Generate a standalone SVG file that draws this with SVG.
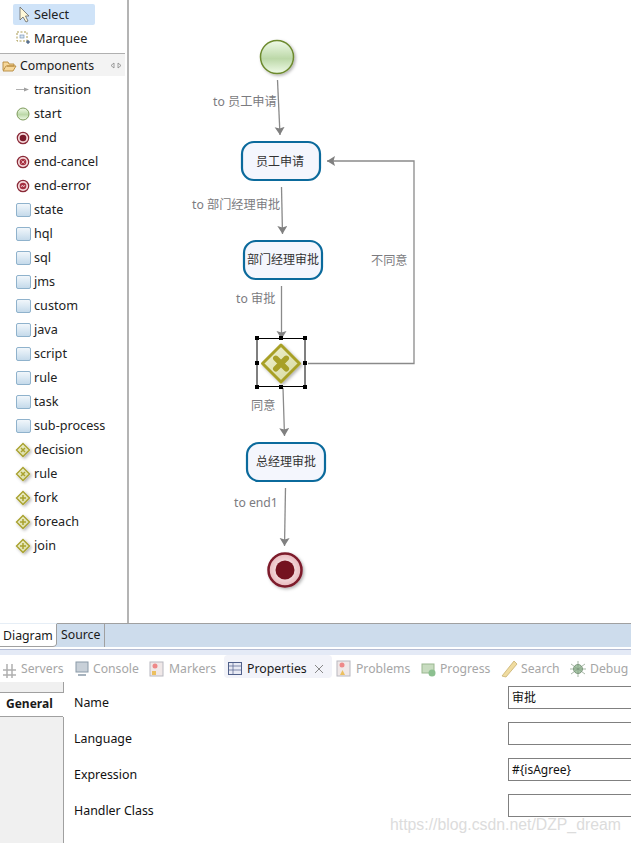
<svg xmlns="http://www.w3.org/2000/svg" width="631" height="843" viewBox="0 0 631 843">
<style>
text{font-family:"Noto Sans","Noto Sans CJK SC",sans-serif;font-size:12.300px;fill:#1a1a1a}
.pal{font-size:12.650px;fill:#222}
.tab{fill:#a6a6a6;font-size:12.200px}
.lbl{fill:#7b7b80;font-size:12.200px}
.nt{fill:#333;font-size:12px;text-anchor:middle}
.prop{font-size:12.400px;fill:#111}
.conn{fill:none;stroke:#8a8a8a;stroke-width:1.300;marker-end:url(#arr)}
.task{fill:#f4f6fd;stroke:#0b6a9c;stroke-width:2.200}
.box{fill:#fff;stroke:#808080;stroke-width:1}
.h{fill:#000}
</style>
<defs>
<marker id="arr" markerUnits="userSpaceOnUse" markerWidth="12" markerHeight="12" refX="8" refY="5" orient="auto"><path d="M0 0L8 5L0 10L1.500 5Z" fill="#808080"/></marker>
<linearGradient id="gs" x1="0" y1="0" x2="0" y2="1"><stop offset="0" stop-color="#f0fbe8"/><stop offset=".55" stop-color="#bcd8a8"/><stop offset="1" stop-color="#f0fbe8"/></linearGradient>
<linearGradient id="gb" x1="0" y1="0" x2="0" y2="1"><stop offset="0" stop-color="#f3f8fc"/><stop offset="1" stop-color="#c3d9ea"/></linearGradient>
<linearGradient id="gd" x1="0" y1="0" x2="1" y2="1"><stop offset="0" stop-color="#f0f2d0"/><stop offset="1" stop-color="#d6d8a0"/></linearGradient>
<radialGradient id="ge"><stop offset="0" stop-color="#fff"/><stop offset="1" stop-color="#e8b8bc"/></radialGradient>
<filter id="sh" x="-20%" y="-20%" width="150%" height="150%"><feDropShadow dx="1.500" dy="1.500" stdDeviation="1.500" flood-color="#000" flood-opacity=".3"/></filter>
<g id="i-box"><rect x="-6.500" y="-6.500" width="14" height="13" rx="1.500" fill="url(#gb)" stroke="#8fb2cc"/></g>
<g id="i-dia"><path d="M0 -6.500L6.500 0L0 6.500L-6.500 0Z" fill="url(#gd)" stroke="#a9a22e" stroke-width="1.400" filter="url(#sh)"/></g>
<g id="i-end"><circle r="5.700" fill="#f4d8da" stroke="#8a2a38" stroke-width="1.200"/></g>
</defs>

<rect width="631" height="843" fill="#fff"/>

<g id="palette">
<rect x="127" y="0" width="2" height="623" fill="#b4b4b4"/>
<rect x="13" y="4" width="82" height="21" rx="2" fill="#cfe3f8"/>
<path d="M20 7V20L23 17L26 22L28 21L25.500 16H29Z" fill="#fff8d8" stroke="#666" stroke-width=".8"/>
<text class="pal" x="34" y="19">Select</text>
<rect x="17" y="32" width="10" height="9" fill="none" stroke="#a89a50" stroke-dasharray="2 1.500"/><rect x="20" y="35" width="4" height="3" fill="#d8e4f0" stroke="#6a8ab0" stroke-width=".6"/><path d="M26 42H30M28 40V44" stroke="#20406a" stroke-width="1"/>
<text class="pal" x="34" y="43">Marquee</text>
<rect x="0" y="53" width="125" height="1" fill="#b0b0b0"/>
<rect x="0" y="54" width="125" height="22" fill="#f3f3f3"/>
<path d="M3 70V62H8L9 64H14V66H6L3 71H13L16 66H7" fill="#f6d79a" stroke="#b5893a" stroke-width=".9"/>
<text x="20" y="70" style="font-size:12.300px">Components</text>
<path d="M111 65.500L114 63V68ZM121 65.500L118 63V68Z" fill="none" stroke="#888" stroke-width=".8"/>
<path d="M16 89.500H26" stroke="#b0b0b0" stroke-width="1"/><path d="M24 87.500L29 89.500L24 91.500Z" fill="#a0a0a0"/>
<text class="pal" x="34" y="94">transition</text>
<circle cx="23" cy="114" r="6" fill="url(#gs)" stroke="#7d9a5a"/>
<text class="pal" x="34" y="118">start</text>
<use href="#i-end" x="23" y="138"/><circle cx="23" cy="138" r="3.300" fill="#7a1a2a"/>
<text class="pal" x="34" y="142">end</text>
<use href="#i-end" x="23" y="162"/><circle cx="23" cy="162" r="3.300" fill="#a53040"/><path d="M21.500 160.500L24.500 163.500M24.500 160.500L21.500 163.500" stroke="#f4d8da" stroke-width=".8"/>
<text class="pal" x="34" y="166">end-cancel</text>
<use href="#i-end" x="23" y="186"/><circle cx="23" cy="186" r="3.300" fill="#a53040"/><path d="M21 187L22.500 185L23.500 187L25 185" fill="none" stroke="#f4d8da" stroke-width=".8"/>
<text class="pal" x="34" y="190">end-error</text>
<use href="#i-box" x="23" y="210"/><text class="pal" x="34" y="214">state</text>
<use href="#i-box" x="23" y="234"/><text class="pal" x="34" y="238">hql</text>
<use href="#i-box" x="23" y="258"/><text class="pal" x="34" y="262">sql</text>
<use href="#i-box" x="23" y="282"/><text class="pal" x="34" y="286">jms</text>
<use href="#i-box" x="23" y="306"/><text class="pal" x="34" y="310">custom</text>
<use href="#i-box" x="23" y="330"/><text class="pal" x="34" y="334">java</text>
<use href="#i-box" x="23" y="354"/><text class="pal" x="34" y="358">script</text>
<use href="#i-box" x="23" y="378"/><text class="pal" x="34" y="382">rule</text>
<use href="#i-box" x="23" y="402"/><text class="pal" x="34" y="406">task</text>
<use href="#i-box" x="23" y="426"/><text class="pal" x="34" y="430">sub-process</text>
<use href="#i-dia" x="23" y="450"/><path d="M21 448L25 452M25 448L21 452" stroke="#a9a22e" stroke-width="1.500"/><text class="pal" x="34" y="454">decision</text>
<use href="#i-dia" x="23" y="474"/><path d="M21 472L25 476M25 472L21 476" stroke="#a9a22e" stroke-width="1.500"/><text class="pal" x="34" y="478">rule</text>
<use href="#i-dia" x="23" y="498"/><path d="M20 498H26M23 495V501" stroke="#a9a22e" stroke-width="1.500"/><text class="pal" x="34" y="502">fork</text>
<use href="#i-dia" x="23" y="522"/><path d="M20 522H26M23 519V525" stroke="#a9a22e" stroke-width="1.500"/><text class="pal" x="34" y="526">foreach</text>
<use href="#i-dia" x="23" y="546"/><path d="M20 546H26M23 543V549" stroke="#a9a22e" stroke-width="1.500"/><text class="pal" x="34" y="550">join</text>
</g>

<g id="connectors">
<path class="conn" d="M277.500 80L280 135"/>
<path class="conn" d="M281.500 187L282.500 234"/>
<path class="conn" d="M281.500 286L281.500 339"/>
<path class="conn" d="M283 388L284.500 436"/>
<path class="conn" d="M285.500 488L284.500 546"/>
<path class="conn" d="M308 363.500H414V161H327"/>
<text class="lbl" x="213" y="106">to 员工申请</text>
<text class="lbl" x="192" y="209">to 部门经理审批</text>
<text class="lbl" x="236" y="303">to 审批</text>
<text class="lbl" x="371" y="265">不同意</text>
<text class="lbl" x="251" y="410">同意</text>
<text class="lbl" x="234" y="507">to end1</text>
</g>

<g id="start-node"><circle cx="277" cy="57" r="16.500" fill="url(#gs)" stroke="#6d8a2e" stroke-width="1.500" filter="url(#sh)"/></g>
<g id="task-apply"><rect x="242" y="142" width="78" height="38" rx="12" class="task"/><text class="nt" x="280" y="166">员工申请</text></g>
<g id="task-dept"><rect x="244" y="241" width="78" height="38" rx="12" class="task"/><text class="nt" x="283" y="264">部门经理审批</text></g>
<g id="decision-node">
<path d="M281 345L299.500 363.500L281 382L262.500 363.500Z" fill="url(#gd)" stroke="#a8a028" stroke-width="3" stroke-linejoin="round" filter="url(#sh)"/>
<path d="M275.800 358.300L286.300 368.800M286.300 358.300L275.800 368.800" stroke="#a8a028" stroke-width="5.500" stroke-linecap="round"/>
<rect x="257" y="338.500" width="48" height="48" fill="none" stroke="#000" stroke-width="1"/>
<rect class="h" x="255" y="336" width="4" height="4"/><rect class="h" x="279" y="336" width="4" height="4"/><rect class="h" x="303" y="336" width="4" height="4"/>
<rect class="h" x="255" y="361" width="4" height="4"/><rect class="h" x="303" y="361" width="4" height="4"/>
<rect class="h" x="255" y="385" width="4" height="4"/><rect class="h" x="279" y="385" width="4" height="4"/><rect class="h" x="303" y="385" width="4" height="4"/>
</g>
<g id="task-gm"><rect x="247" y="443" width="78" height="38" rx="12" class="task"/><text class="nt" x="286" y="466">总经理审批</text></g>
<g id="end-node"><circle cx="285" cy="570" r="16.500" fill="url(#ge)" stroke="#7d1a2c" stroke-width="2.500" filter="url(#sh)"/><circle cx="285" cy="570" r="9.500" fill="#74121f"/></g>

<g id="editor-tabs">
<rect x="0" y="623" width="631" height="24" fill="#cddcec"/>
<rect x="57" y="623" width="574" height="1" fill="#a0a0a0"/>
<path d="M0 623.500H56V644Q56 646.500 53 646.500H0Z" fill="#fff"/>
<path d="M0 646.500H53Q56 646.500 56.500 644V624" fill="none" stroke="#a0a0a0"/>
<path d="M104.500 624V647" stroke="#a0a0a0"/>
<text x="3" y="640" fill="#111">Diagram</text>
<text x="61" y="639">Source</text>
<rect x="0" y="649" width="631" height="1" fill="#b4bcd4"/>
<rect x="0" y="650" width="631" height="5" fill="#e4eaf6"/>
</g>

<g id="view-tabs">
<path d="M3 670H16M3 675H16M7 664V678M12 664V678" stroke="#b0b0b0" stroke-width="1.500"/>
<text class="tab" x="21" y="673">Servers</text>
<rect x="76" y="662" width="12" height="10" fill="#c8d0d8" stroke="#8a9aa8"/><path d="M78 675H86" stroke="#8a9aa8" stroke-width="1.500"/>
<text class="tab" x="93" y="673">Console</text>
<rect x="150" y="662" width="13" height="14" fill="#f0e8e8" stroke="#b8b8c0"/><circle cx="155" cy="666" r="2.500" fill="#e88"/><rect x="152" y="671" width="4" height="4" fill="#ecc060"/>
<text class="tab" x="169" y="673">Markers</text>
<rect x="224" y="655" width="108" height="23" rx="4" fill="#f2f3f9"/>
<rect x="228.500" y="662.500" width="13" height="12" fill="#e8eaf4" stroke="#50608a"/><path d="M229 666H241M229 670H241M233 663V674" stroke="#50608a" stroke-width=".7"/>
<text x="247" y="673" fill="#1c2c50">Properties</text>
<path d="M315 665L323 673M323 665L315 673" stroke="#888" stroke-width="1"/>
<rect x="337" y="661" width="13" height="15" fill="#f0e8e8" stroke="#b8b8c0"/><circle cx="342" cy="665" r="2.500" fill="#e88"/><path d="M340 675L342.500 670L345 675Z" fill="#ecc060"/>
<text class="tab" x="356" y="673">Problems</text>
<rect x="422" y="664" width="12" height="9" fill="#c8dcc0" stroke="#9ab890"/><circle cx="432" cy="673" r="3.500" fill="#8cc090"/>
<text class="tab" x="440" y="673">Progress</text>
<path d="M502 676L514 661L517 664L506 677Z" fill="#f0dca0" stroke="#c8b070" stroke-width=".8"/>
<text class="tab" x="521" y="673">Search</text>
<circle cx="578" cy="669" r="4.500" fill="#a8c8a8" stroke="#809880"/><path d="M571 664L585 674M585 664L571 674M570 669H586M578 661V677" stroke="#809880" stroke-width=".7"/>
<text class="tab" x="590" y="673">Debug</text>
</g>

<g id="properties">
<rect x="0" y="682" width="63.500" height="161" fill="#f0f0f0"/>
<path d="M63.500 682V843" stroke="#a0a0a0"/>
<rect x="0" y="693" width="64" height="24" fill="#fff"/>
<path d="M0 692.500H63M0 716.500H63" stroke="#a0a0a0"/>
<text x="6" y="708" style="font-weight:700;font-size:12px" fill="#000">General</text>
<text class="prop" x="74" y="707">Name</text>
<text class="prop" x="74" y="743">Language</text>
<text class="prop" x="74" y="779">Expression</text>
<text class="prop" x="74" y="815">Handler Class</text>
<rect class="box" x="508.500" y="686.500" width="130" height="22"/>
<rect class="box" x="508.500" y="722.500" width="130" height="22"/>
<rect class="box" x="508.500" y="758.500" width="130" height="22"/>
<rect class="box" x="508.500" y="794.500" width="130" height="22"/>
<text class="prop" x="512" y="702" style="font-size:12px">审批</text>
<text class="prop" x="512" y="774" style="font-size:12px">#{isAgree}</text>
<text x="390" y="830" style="font-family:'Liberation Sans',sans-serif;font-size:15.800px;fill:#dcdcdc">https://blog.csdn.net/DZP_dream</text>
</g>
</svg>
